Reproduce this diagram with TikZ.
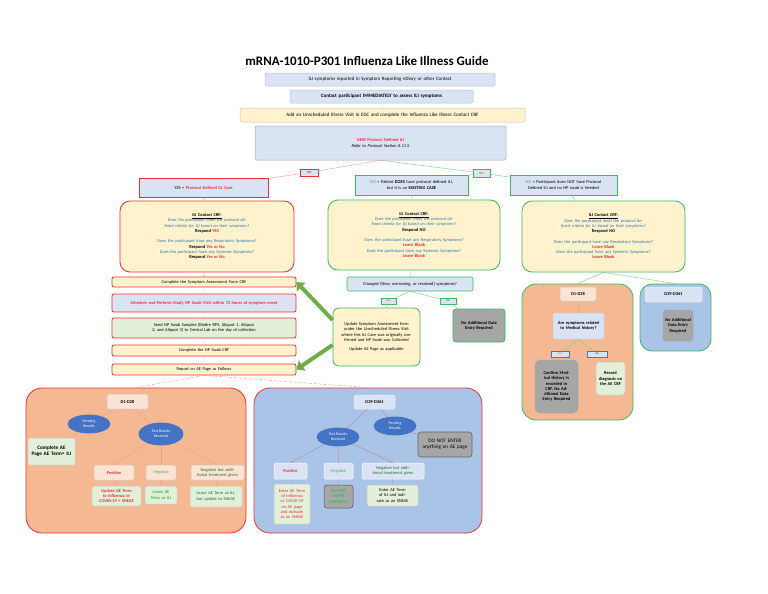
\documentclass[tikz,border=0pt]{standalone}
\usepackage{fontspec}
\setmainfont{Carlito}
\usetikzlibrary{arrows.meta,shapes.geometric}
\definecolor{bbl}{HTML}{DAE3F3}
\definecolor{yel}{HTML}{FFF2CC}
\definecolor{ora}{HTML}{F4B993}
\definecolor{pnl}{HTML}{A9C4E6}
\definecolor{grf}{HTML}{E2EFD9}
\definecolor{gry}{HTML}{A6A6A6}
\definecolor{rd}{HTML}{F03030}
\definecolor{gn}{HTML}{3CB85C}
\definecolor{ell}{HTML}{4472C4}
\definecolor{pch}{HTML}{FBE4D5}
\definecolor{tb}{HTML}{2E75B6}
\definecolor{big}{HTML}{70AD47}
\newcommand\bx[8][3]{\pgfmathsetmacro\bw{#5-#3}\pgfmathsetmacro\bh{#6-#4}\pgfmathsetmacro\tw{#5-#3-#1}%
\node[minimum width=\bw pt,minimum height=\bh pt,text width=\tw pt,#7] (#2) at ({(#3+#5)/2},{(#4+#6)/2}) {#8};}
\begin{document}
\begin{tikzpicture}[x=1pt,y=-1pt,
 every node/.style={font=\fontsize{4.4}{5.3}\selectfont,align=center,inner sep=0.5pt,line width=0.8pt},
 bf/.style={font=\fontsize{4.4}{5.3}\selectfont\bfseries},
 b/.style={draw=gry!70,fill=bbl,rounded corners=1.5pt,line width=0.5pt},
 rb/.style={draw=rd,fill=bbl},
 gb/.style={draw=gn,fill=bbl},
 ry/.style={draw=rd,fill=yel,rounded corners=2pt},
 rr/.style={draw=rd,fill=yel,rounded corners=10pt},
 gr/.style={draw=gn,fill=yel,rounded corners=10pt},
 gy/.style={draw=gry,fill=gry,rounded corners=3pt,line width=0.5pt},
 gf/.style={draw=gry!60,fill=grf,rounded corners=1.5pt,line width=0.5pt},
 pc/.style={draw=gry!60,fill=pch,rounded corners=1.5pt,line width=0.5pt},
 lb/.style={draw=bbl!60,fill=bbl,rounded corners=1.5pt,line width=0.5pt},
 el/.style={ellipse,fill=ell,draw=ell,text=white,minimum width=42pt,minimum height=18pt,font=\fontsize{3.9}{4.7}\selectfont},
 rl/.style={draw=rd!50,line width=0.4pt},
 gl/.style={draw=gn!70,line width=0.4pt},
 pl/.style={draw=violet!50,line width=0.4pt},
 bg/.style={line width=4pt,draw=big,-{Triangle[length=7pt,width=12pt]}}]
\useasboundingbox (0,0) rectangle (768,594);
\fill[white] (0,0) rectangle (768,594);
% panels
\bx{pL}{26}{388}{246}{533}{draw=rd,fill=ora,rounded corners=16pt}{}
\bx{pR}{254}{388}{482}{533}{draw=rd,fill=pnl,rounded corners=16pt}{}
\bx{pA}{522}{284}{633}{420}{draw=gn,fill=ora,rounded corners=14pt}{}
\bx{pB}{640}{284}{711}{351}{draw=gn,fill=pnl,rounded corners=12pt}{}
% title
\node (title) at (367,61) {\fontsize{13}{15}\selectfont\bfseries mRNA-1010-P301 Influenza Like Illness Guide};
\bx{ili}{265}{73}{495}{86}{b,font=\fontsize{4.9}{5.8}\selectfont}{ILI symptoms reported in Symptom Reporting eDiary or other Contact}
\bx{cont}{290}{90}{473}{103}{b,font=\fontsize{5}{6}\selectfont\bfseries}{Contact participant IMMEDIATELY to assess ILI symptoms}
\bx{add}{240}{108}{525}{122}{b,fill=yel,font=\fontsize{5}{6}\selectfont}{Add an Unscheduled Illness Visit in EDC and complete the Influenza Like Illness Contact CRF}
\bx{new}{255}{126}{506}{160}{b,draw=gry}{\textcolor{rd}{\bfseries NEW Protocol Defined ILI}\\[1pt] \itshape Refer to Protocol Section 8.11.5}
\draw[gry!40,line width=0.4pt] (ili)--(cont) (cont)--(add) (add)--(new);
\bx{yes}{300}{169}{318}{176}{draw=rd,fill=bbl,text=rd,font=\fontsize{3.2}{3.5}\selectfont\bfseries}{YES}
\bx{no}{473}{169}{490}{177}{draw=gn,fill=bbl,text=gn,font=\fontsize{3.2}{3.5}\selectfont\bfseries}{NO}
\bx{yb}{139}{178}{268}{197}{rb}{YES = \textcolor{rd}{\bfseries Protocol Defined ILI Case}}
\bx{ne}{355}{175}{468}{195}{gb}{\textcolor{gn}{NO} = Patient \textbf{DOES} have protocol defined ILI,\\ but it is an \textbf{EXISTING CASE}}
\bx{nn}{510}{175}{617}{195}{gb}{\textcolor{gn}{NO} = Participant does NOT have Protocol\\ Defined ILI and no NP swab is Needed}
\draw[rl] (new.south)--(yes) (yes)--(yb);
\draw[gl] (new.south)--(no) (no)--(ne) (no)--(nn);
% CRF boxes
\bx[22]{cl}{120}{201}{294}{272}{rr}{\underline{\textbf{ILI Contact CRF:}}\\ \textcolor{tb}{\itshape Does the participant meet the protocol defined criteria for ILI based on their symptoms?}\\ \textbf{Respond \textcolor{rd}{YES}}\\[5pt] \textcolor{tb}{Does the participant have any Respiratory Symptoms?}\\ \textbf{Respond \textcolor{rd}{Yes or No}}\\ \textcolor{tb}{Does the participant have any Systemic Symptoms?}\\ \textbf{Respond \textcolor{rd}{Yes or No}}}
\bx[16]{cm}{328}{200}{500}{270}{gr}{\underline{\textbf{ILI Contact CRF:}}\\ \textcolor{tb}{\itshape Does the participant meet the protocol defined criteria for ILI based on their symptoms?}\\ \textbf{Respond NO}\\[5pt] \textcolor{tb}{Does the participant have any Respiratory Symptoms?}\\ \textcolor{rd}{\bfseries Leave Blank}\\ \textcolor{tb}{Does the participant have any Systemic Symptoms?}\\ \textcolor{rd}{\bfseries Leave Blank}}
\bx[23]{cr}{522}{201}{685}{272}{gr}{\underline{\textbf{ILI Contact CRF:}}\\ \textcolor{tb}{\itshape Does the participant meet the protocol defined criteria for ILI based on their symptoms?}\\ \textbf{Respond NO}\\[5pt] \textcolor{tb}{Does the participant have any Respiratory Symptoms?}\\ \textcolor{rd}{\bfseries Leave Blank}\\ \textcolor{tb}{Does the participant have any Systemic Symptoms?}\\ \textcolor{rd}{\bfseries Leave Blank}}
\draw[rl] (yb)--(cl);
\draw[gl] (ne)--(cm) (nn)--(cr);
% left column
\bx{saf}{112}{277}{296}{287}{ry}{Complete the Symptom Assessment Form CRF}
\bx[19]{sch}{112}{294}{296}{312}{ry,fill=bbl,text=rd,bf}{Schedule and Perform Study NP Swab Visit within 72 hours of symptom onset}
\bx[14]{snd}{112}{318}{296}{338}{ry,fill=grf}{Send NP Swab Samples (Biofire RPS, Aliquot 1, Aliquot 2, and Aliquot 3) to Central Lab on the day of collection}
\bx{cnp}{112}{345}{296}{356}{ry}{Complete the NP Swab CRF}
\bx{rep}{112}{364}{296}{375}{ry}{Report on AE Page as Follows}
\draw[rl] (cl)--(saf) (saf)--(sch) (sch)--(snd) (snd)--(cnp) (cnp)--(rep);
\draw[rl,densely dashed] (rep.south)--(pL.north) (rep.south)--(pR.north);
% middle
\bx{chg}{347}{277}{473}{291}{gb,rounded corners=2pt,line width=0.6pt}{Changed (New, worsening, or resolved) symptoms?}
\bx{my}{381}{298}{396}{304}{draw=gn,fill=bbl,text=rd,font=\fontsize{2.8}{3}\selectfont,line width=0.5pt}{yes}
\bx{mn}{440}{298}{456}{304}{draw=gn,fill=bbl,font=\fontsize{2.8}{3}\selectfont,line width=0.5pt}{no}
\bx[6]{upd}{333}{308}{420}{366}{gr,rounded corners=6pt}{Update Symptom Assessment form under the Unscheduled Illness Visit where this ILI Case was originally confirmed and NP Swab was Collected\\[4pt] Update AE Page as applicable}
\bx[12]{nad}{453}{309}{505}{342}{gy,draw=gn,line width=0.8pt,bf}{No Additional Data Entry Required}
\draw[gl] (cm)--(chg) (chg.south)--(my) (my)--(upd) (chg.south)--(mn) (mn)--(nad);
\draw[bg] (upd.west|-0,320)--(saf.east);
\draw[bg] (upd.west|-0,345)--(rep.east);
% right panels
\draw[gl] (cr.south)--(pA.north) (cr.south)--(pB.north);
\bx{ad}{560}{287}{596}{301}{pc,bf}{D1-D28}
\bx[9]{aq}{553}{313}{604}{339}{lb,draw=gry!50,bf}{Are symptoms related to Medical history?}
\bx{ay}{551}{351}{569}{357}{draw=ell,fill=bbl,text=rd,font=\fontsize{2.8}{3}\selectfont,line width=0.6pt}{yes}
\bx{an}{587}{351}{607}{357}{draw=ell,fill=bbl,font=\fontsize{2.8}{3}\selectfont,line width=0.6pt}{no}
\bx[8]{ac}{535}{360}{578}{413}{gy,rounded corners=5pt,bf}{Confirm Medical History is recorded in CRF, No Additional Data Entry Required}
\bx[4]{ar}{596}{362}{625}{395}{gf,rounded corners=3pt,bf}{Record diagnosis on the AE CRF}
\draw[gl] (ad)--(aq) (aq.south)--(ay) (ay)--(ac) (aq.south)--(an) (an)--(ar);
\bx{bd}{645}{287}{702}{302}{lb,bf}{D29-D361}
\bx[4]{bn}{663}{310}{693}{341}{gy,bf}{No Additional Data Entry Required}
% left lower panel
\bx{ld}{107}{394}{148}{409}{pc,bf}{D1-D28}
\node[el] (lp) at (89,424) {Pending\\ Results};
\node[el,minimum width=44pt,minimum height=22pt] (lt) at (161,434) {Test Results\\ Received};
\bx{lc}{28}{438}{75}{465}{gf,font=\fontsize{5.2}{6.2}\selectfont\bfseries}{Complete AE Page AE Term= ILI}
\bx{lpo}{94}{465}{134}{480}{pc,text=rd,bf}{Positive}
\bx{lne}{146}{465}{176}{480}{pc,text=gn}{Negative}
\bx{lnb}{191}{465}{244}{480}{pc,text=gn!60!black}{Negative but additional treatment given}
\bx{lu}{92}{486}{141}{506}{gf,text=rd,bf}{Update AE Term to Influenza or COVID-19 + SNEAE}
\bx[7]{ll}{145}{486}{177}{504}{gf,text=gn,bf}{Leave AE Term as ILI}
\bx[7]{li}{190}{486}{242}{507}{gf,text=gn!60!black}{Leave AE Term as ILI, but update to SNEAE}
\draw[rl,-{Stealth[length=2pt]}] (ld)--(lp);
\draw[rl,-{Stealth[length=2pt]}] (ld)--(lt);
\draw[rl] (lp)--(lc);
\draw[rl,-{Stealth[length=2pt]}] (lt)--(lpo.north);
\draw[rl,-{Stealth[length=2pt]}] (lt)--(lne);
\draw[rl,-{Stealth[length=2pt]}] (lt)--(lnb.north);
\draw[rl,-{Stealth[length=2pt]}] (lpo)--(lu);
\draw[rl,-{Stealth[length=2pt]}] (lne)--(ll);
\draw[rl,-{Stealth[length=2pt]}] (lnb)--(li);
% right lower panel
\bx{rd1}{354}{395}{395}{409}{lb,bf}{D29-D361}
\node[el] (rp) at (395,426) {Pending\\ Results};
\node[el] (rt) at (338,437) {Test Results\\ Received};
\bx{rdn}{418}{432}{472}{457}{gy,draw=gry!60!black,line width=0.6pt,font=\fontsize{5.2}{6.2}\selectfont}{DO NOT ENTER anything on AE page}
\bx{rpo}{274}{463}{307}{479}{lb,draw=white,text=rd,bf}{Positive}
\bx{rne}{324}{463}{353}{479}{lb,draw=white,text=gn}{Negative}
\bx[9]{rnb}{362}{463}{424}{479}{lb,draw=white,text=gn!60!black}{Negative but additional treatment given}
\bx[5]{re}{274}{484}{310}{524}{gf,text=rd}{Enter AE Term of Influenza or COVID-19 on AE page and indicate as an SNEAE}
\bx[6]{rx}{324}{485}{353}{508}{gy,draw=gry!50!black,text=gn,bf}{DO NOT ENTER ANYTHING}
\bx[6]{ri}{367}{485}{418}{506}{gf}{Enter AE Term of ILI and indicate as an SNEAE}
\draw[pl,-{Stealth[length=2pt]}] (rd1)--(rp);
\draw[pl,-{Stealth[length=2pt]}] (rd1)--(rt);
\draw[pl] (rp)--(rdn);
\draw[pl,-{Stealth[length=2pt]}] (rt)--(rpo.north);
\draw[pl] (rt)--(rne);
\draw[pl,-{Stealth[length=2pt]}] (rt)--(rnb.north);
\draw[pl] (rpo)--(re) (rne)--(rx) (rnb)--(ri);
\end{tikzpicture}
\end{document}
